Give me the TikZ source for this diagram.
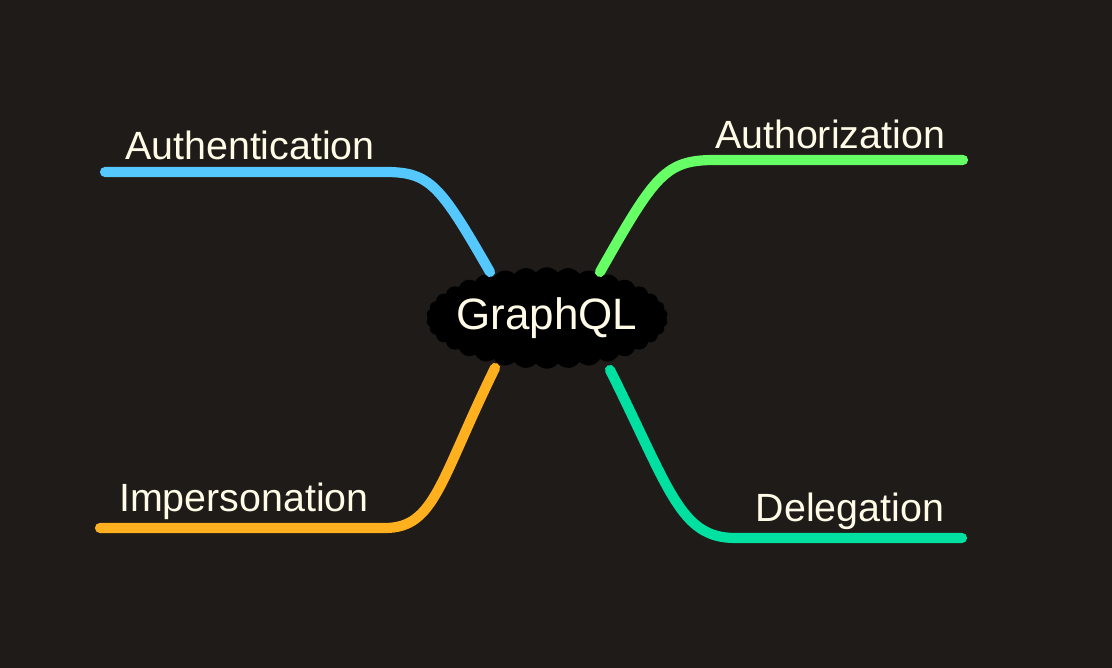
\documentclass[tikz,border=0pt]{standalone}
\usepackage{fontspec}
\setmainfont{Liberation Sans}
\usetikzlibrary{shapes.symbols, positioning}
\definecolor{bgcol}{HTML}{1E1B18}
\definecolor{txtcol}{HTML}{FFFBE6}
\definecolor{authcol}{HTML}{55C8FF}
\definecolor{authzcol}{HTML}{66FF66}
\definecolor{impcol}{HTML}{FFB01F}
\definecolor{delcol}{HTML}{00E0A0}
\tikzset{
  branch/.style={line width=2.9pt, line cap=round},
  leaf/.style={text=txtcol, font=\fontsize{11.2}{13}\selectfont, inner sep=0pt}
}
\begin{document}
\begin{tikzpicture}[x=0.01cm, y=-0.01cm]
        % Background
        \fill[bgcol] (0,0) rectangle (1112,668);
        
        % Centre
        \node[cloud, cloud puffs=34, cloud puff arc=110, aspect=2.4, fill=black, draw=black,
              minimum width=2.4cm, minimum height=1cm, inner sep=0pt] (G) at (547,318) {};
        \node[text=txtcol, font=\fontsize{12.5}{14}\selectfont] (GT) at (547,318) {GraphQL};
        
        % End points
        \coordinate (a0) at (490,272); \coordinate (a1) at (105,172);
        \coordinate (b0) at (600,272); \coordinate (b1) at (963,160);
        \coordinate (c0) at (495,368); \coordinate (c1) at (100,528);
        \coordinate (d0) at (610,370); \coordinate (d1) at (962,538);
        
        % Branches
        \draw[branch, authcol] (a0) .. controls (440,185) and (430,172) .. (385,172) -- (a1);
        \draw[branch, authzcol] (b0) .. controls (655,175) and (665,160) .. (715,160) -- (b1);
        \draw[branch, impcol] (c0) .. controls (440,480) and (435,528) .. (385,528) -- (c1);
        \draw[branch, delcol] (d0) .. controls (670,490) and (680,538) .. (735,538) -- (d1);
        
        % Labels
        \node[leaf] (la) at (250,145) {Authentication};
        \node[leaf] (lb) at (830,134) {Authorization};
        \node[leaf] (lc) at (244,501) {Impersonation};
        \node[leaf] (ld) at (850,511) {Delegation};
        
\end{tikzpicture}
\end{document}
